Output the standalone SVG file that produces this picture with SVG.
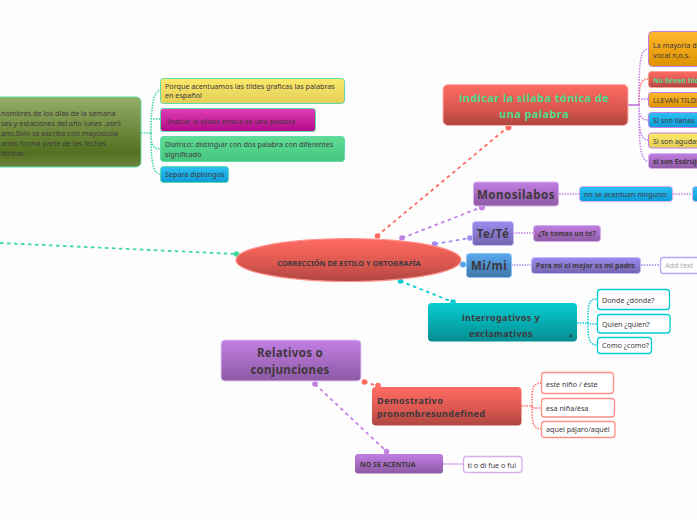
<svg xmlns="http://www.w3.org/2000/svg" width="697" height="520" viewBox="0 0 697 520">
<defs>
<linearGradient id="gRed" x1="0" y1="0" x2="0" y2="1"><stop offset="0" stop-color="#ff6b62"/><stop offset="0.6" stop-color="#d9574f"/><stop offset="1" stop-color="#ad4540"/></linearGradient>
<linearGradient id="gOlive" x1="0" y1="0" x2="0" y2="1"><stop offset="0" stop-color="#95ad69"/><stop offset="0.8" stop-color="#53701f"/><stop offset="1" stop-color="#6d8440"/></linearGradient>
<linearGradient id="gYellow" x1="0" y1="0" x2="0" y2="1"><stop offset="0" stop-color="#fbe96a"/><stop offset="1" stop-color="#e3cf58"/></linearGradient>
<linearGradient id="gMag" x1="0" y1="0" x2="0" y2="1"><stop offset="0" stop-color="#e03fb6"/><stop offset="1" stop-color="#b00a85"/></linearGradient>
<linearGradient id="gGreen" x1="0" y1="0" x2="0" y2="1"><stop offset="0" stop-color="#5fdd95"/><stop offset="1" stop-color="#45c57f"/></linearGradient>
<linearGradient id="gBlue" x1="0" y1="0" x2="0" y2="1"><stop offset="0" stop-color="#2cc1f2"/><stop offset="1" stop-color="#0c9bd8"/></linearGradient>
<linearGradient id="gOrange" x1="0" y1="0" x2="0" y2="1"><stop offset="0" stop-color="#ffb92e"/><stop offset="1" stop-color="#dd9200"/></linearGradient>
<linearGradient id="gPurple" x1="0" y1="0" x2="0" y2="1"><stop offset="0" stop-color="#c27fe4"/><stop offset="1" stop-color="#8c5aa3"/></linearGradient>
<linearGradient id="gViolet" x1="0" y1="0" x2="0" y2="1"><stop offset="0" stop-color="#9c8cf2"/><stop offset="1" stop-color="#7264ae"/></linearGradient>
<linearGradient id="gSteel" x1="0" y1="0" x2="0" y2="1"><stop offset="0" stop-color="#5aa9f0"/><stop offset="1" stop-color="#3f76a8"/></linearGradient>
<linearGradient id="gTeal" x1="0" y1="0" x2="0" y2="1"><stop offset="0" stop-color="#06cdd2"/><stop offset="1" stop-color="#058d91"/></linearGradient>
</defs>
<style>
text{font-family:"Noto Sans","DejaVu Sans",sans-serif;fill:#3f383d}
.s{font-size:7.2px}
.sb{font-size:7px;font-weight:700}
.l{font-size:11.500px;font-weight:700;letter-spacing:.5px}
.m{font-size:9px;font-weight:700;letter-spacing:.4px}
.c{text-anchor:middle}
.w{fill:#fff;stroke-width:1.3}
.b{stroke-width:1}
.cn{fill:none;stroke-width:1.5}
.d{stroke-dasharray:1.500 1.200}
.D{stroke-dasharray:3.500 3.500;stroke-width:1.800;fill:none}
</style>
<rect width="697" height="520" fill="#fdfdfd"/>
<g id="connectors">
<g stroke="#3fd8a0">
<path class="D" d="M0 243L236 254"/><circle cx="236.500" cy="254" r="2.800" fill="#3fd8a0" stroke="none"/>
<path class="cn d" d="M141 133H151M151 133C151 125 151 91 160 90M151 133V119H160M151 133C151 140 151 149 160 149M151 133C151 150 151 174 160 174"/>
</g>
<g stroke="#ff6b62">
<path class="D" d="M377 236L508 127"/><circle cx="377.500" cy="236" r="2.800" fill="#ff6b62" stroke="none"/><circle cx="508.500" cy="127.500" r="3" fill="#ff6b62" stroke="none"/>
<path class="cn d" d="M628 105H639C639 90 639 79 648 79"/>
<path class="D" d="M364 382L378 386"/><circle cx="364.500" cy="382" r="2.800" fill="#ff6b62" stroke="none"/><circle cx="378" cy="385.500" r="2.800" fill="#ff6b62" stroke="none"/>
<path class="cn d" d="M521 406H532M532 406C532 390 532 383 541 383M532 406V408H541M532 406C532 420 532 429 541 429"/>
</g>
<g stroke="#c27fe4">
<path class="cn d" d="M628 105H639M639 105C639 70 639 49 648 49M639 105V99H648M639 105C639 112 639 120 648 120M639 105C639 125 639 140 648 140M639 105C639 135 639 161 648 161"/>
<path d="M628 105H639" stroke-width="1.500"/>
<path class="D" d="M402 238L482 207"/><circle cx="402" cy="238" r="2.800" fill="#c27fe4" stroke="none"/><circle cx="482" cy="207.500" r="3" fill="#c27fe4" stroke="none"/>
<path class="cn d" d="M559 194H579M673 194H692M513 233H533"/>
<path class="D" d="M315 384L386 451"/><circle cx="315" cy="384" r="2.800" fill="#c27fe4" stroke="none"/><circle cx="386.500" cy="451.500" r="2.800" fill="#c27fe4" stroke="none"/>
<path class="cn d" d="M443 464H463"/>
</g>
<g stroke="#9c8cf2">
<path class="D" d="M435 244L470 238"/><circle cx="434.500" cy="244" r="2.800" fill="#9c8cf2" stroke="none"/><circle cx="470" cy="238" r="2.800" fill="#9c8cf2" stroke="none"/>
<path class="cn d" d="M511 265H531M641 265H660"/>
</g>
<circle cx="463" cy="264.500" r="3" fill="#5aa9f0"/>
<g stroke="#06cdd2">
<path class="D" d="M400 281L453 302"/><circle cx="400.500" cy="281" r="2.800" fill="#06cdd2" stroke="none"/><circle cx="453" cy="302" r="2.800" fill="#06cdd2" stroke="none"/>
<path class="cn d" d="M577 323H588M588 323C588 305 588 299 597 299M588 323V324H597M588 323C588 335 588 345 597 345"/>
</g>
</g>
<g id="central"><ellipse cx="348.500" cy="260" rx="112.500" ry="21.500" fill="url(#gRed)" stroke="#ff8f88" stroke-width="1.200"/><text x="349" y="266" class="c" style="font-size:7.400px;font-weight:700">CORRECCIÓN DE ESTILO Y ORTOGRAFÍA</text></g>
<g id="n-fechas"><rect x="-20" y="97" width="161" height="70" rx="5" fill="url(#gOlive)" stroke="#5fdcaa" class="b"/>
<text class="s"><tspan x="1" y="116">nombres de los días de la semana</tspan><tspan x="1" y="126">ses y estaciones del año lunes ,abril</tspan><tspan x="1" y="136">ano.Solo se escribe  con mayúscula</tspan><tspan x="1" y="146">ando  forma parte de las  fechas</tspan><tspan x="1" y="156">tóricas.</tspan></text></g>
<g id="n-porque"><rect x="160.500" y="78.500" width="184" height="25" rx="3" fill="url(#gYellow)" stroke="#5fdcaa" class="b"/><text class="s"><tspan x="165" y="89">Porque acentuamos  las tildes  graficas las  palabras</tspan><tspan x="165" y="98">en español</tspan></text></g>
<g id="n-indicar2"><rect x="160.500" y="108.500" width="155" height="23" rx="3" fill="url(#gMag)" stroke="#5fdcaa" class="b"/><text x="167" y="124" class="s">Indicar la silaba tónica de una  palabra</text></g>
<g id="n-diatrico"><rect x="160.500" y="136.500" width="184" height="25" rx="3" fill="url(#gGreen)" stroke="#5fdcaa" class="b"/><text class="s"><tspan x="165" y="147">Diatrico: distinguir con dos palabra con diferentes</tspan><tspan x="165" y="157">significado</tspan></text></g>
<g id="n-separa"><rect x="160.500" y="166.500" width="68" height="16" rx="3" fill="url(#gBlue)" stroke="#5fdcaa" class="b"/><text x="165" y="177" class="s">Separa diptongos</text></g>
<g id="n-indicar"><rect x="443" y="84.500" width="185" height="41" rx="5" fill="url(#gRed)" stroke="#ffb0aa" class="b"/><text class="c" style="font-size:11px;font-weight:700;letter-spacing:.4px;fill:#4fd98c"><tspan x="534" y="102">indicar la silaba tónica de</tspan><tspan x="534" y="118">una palabra</tspan></text></g>
<g id="n-mayoria"><rect x="648.500" y="31.500" width="70" height="35" rx="4" fill="url(#gOrange)" stroke="#c27fe4" class="b"/><text class="s"><tspan x="653" y="48">La mayoría de</tspan><tspan x="653" y="58">vocal n,o,s.</tspan></text></g>
<g id="n-nollevan"><rect x="648.500" y="71.500" width="70" height="16" rx="3" fill="url(#gRed)" stroke="#ff9a94" class="b"/><text x="653" y="83" style="font-size:7px;font-weight:700;fill:#4fd98c">No  llevan tilde</text></g>
<g id="n-llevan"><rect x="648.500" y="92.500" width="70" height="15" rx="3" fill="url(#gOrange)" stroke="#c27fe4" class="b"/><text x="653" y="102.500" class="s">LLEVAN TILDE</text></g>
<g id="n-llanas"><rect x="648.500" y="112.500" width="70" height="15" rx="3" fill="url(#gBlue)" stroke="#c27fe4" class="b"/><text x="653" y="123" class="s">Si son  llanas</text></g>
<g id="n-agudas"><rect x="648.500" y="133" width="70" height="15" rx="3" fill="url(#gYellow)" stroke="#c27fe4" class="b"/><text x="653" y="143.500" class="s">Si son agudas</text></g>
<g id="n-esdrujulas"><rect x="648.500" y="153.500" width="70" height="15" rx="3" fill="url(#gPurple)" stroke="#d9b0ee" class="b"/><text x="653" y="164" class="sb">si son Esdrújulas</text></g>
<g id="n-mono"><rect x="473.500" y="182" width="85" height="24" rx="3" fill="url(#gPurple)" stroke="#d9b0ee" class="b"/><text x="516" y="199" class="c l">Monosilabos</text></g>
<g id="n-noacent"><rect x="579.500" y="186.500" width="93" height="15" rx="3" fill="url(#gBlue)" stroke="#d9b0ee" class="b"/><text x="584" y="197" class="s">no se acentuan ninguno:</text></g>
<g id="n-blue2"><rect x="692.500" y="186.500" width="20" height="15" rx="3" fill="url(#gBlue)" stroke="#d9b0ee" class="b"/></g>
<g id="n-te"><rect x="472.500" y="221.500" width="41" height="24" rx="3" fill="url(#gViolet)" stroke="#c5bdf7" class="b"/><text x="493" y="238" class="c l">Te/Té</text></g>
<g id="n-tomas"><rect x="533.500" y="225.500" width="67" height="16" rx="3" fill="url(#gPurple)" stroke="#d9b0ee" class="b"/><text x="538" y="236" class="sb">¿Te tomas un té?</text></g>
<g id="n-mi"><rect x="466.500" y="253.500" width="45" height="24" rx="3" fill="url(#gSteel)" stroke="#8cc4f5" class="b"/><text x="489" y="270" class="c l">Mi/mi</text></g>
<g id="n-parami"><rect x="531.500" y="257.500" width="109" height="16" rx="3" fill="url(#gViolet)" stroke="#c5bdf7" class="b"/><text x="536" y="268" class="sb">Para mi el mejor es mi padre</text></g>
<g id="n-add"><rect x="660.500" y="257.500" width="50" height="16" rx="3" class="w" stroke="#b3a8f5"/><text x="665" y="268" class="s" style="fill:#aaa">Add text</text></g>
<g id="n-inter"><rect x="428" y="303" width="149" height="38.500" rx="4" fill="url(#gTeal)"/><text class="c m"><tspan x="501" y="321">interrogativos y</tspan><tspan x="501" y="337">exclamativos</tspan></text><path d="M572 333.500V337H568.500Z" fill="#33474a"/></g>
<g id="n-donde"><rect x="597.500" y="289.500" width="72" height="20" rx="3" class="w" stroke="#06cdd2"/><text x="602" y="303" class="s">Donde  ¿dónde?</text></g>
<g id="n-quien"><rect x="597.500" y="314.500" width="72.500" height="18.500" rx="3" class="w" stroke="#06cdd2"/><text x="602" y="327" class="s">Quien ¿quien?</text></g>
<g id="n-como"><rect x="597.500" y="337.500" width="54" height="16" rx="3" class="w" stroke="#06cdd2"/><text x="602" y="348" class="s">Como ¿como?</text></g>
<g id="n-relativos"><rect x="221" y="340" width="140" height="41" rx="4" fill="url(#gPurple)" stroke="#e2c6f2" class="b"/><text class="c" style="font-size:11.500px;font-weight:700;letter-spacing:.3px"><tspan x="290" y="357">Relativos o</tspan><tspan x="290" y="374">conjunciones</tspan></text></g>
<g id="n-demo"><rect x="372" y="387" width="149.500" height="38.500" rx="4" fill="url(#gRed)"/><text class="m"><tspan x="377" y="404">Demostrativo</tspan><tspan x="377" y="417">pronombresundefined</tspan></text></g>
<g id="n-este"><rect x="541.500" y="372.500" width="72" height="21" rx="3" class="w" stroke="#ff8f88"/><text x="546" y="387" class="s">este niño / éste</text></g>
<g id="n-esa"><rect x="541.500" y="398.500" width="73" height="18.500" rx="3" class="w" stroke="#ff8f88"/><text x="546" y="411" class="s">esa niña/ésa</text></g>
<g id="n-aquel"><rect x="541.500" y="421.500" width="73.500" height="16" rx="3" class="w" stroke="#ff8f88"/><text x="546" y="432" class="s">aquel pájaro/aquél</text></g>
<g id="n-noacentua"><rect x="355" y="454" width="88" height="19.500" rx="3" fill="url(#gPurple)"/><text x="360" y="467" class="sb">NO SE ACENTUA</text></g>
<g id="n-tiodi"><rect x="463.500" y="456.500" width="58.500" height="16" rx="3" class="w" stroke="#d9b0ee"/><text x="467.500" y="467.500" class="s">ti o di fue o fui</text></g>
</svg>
